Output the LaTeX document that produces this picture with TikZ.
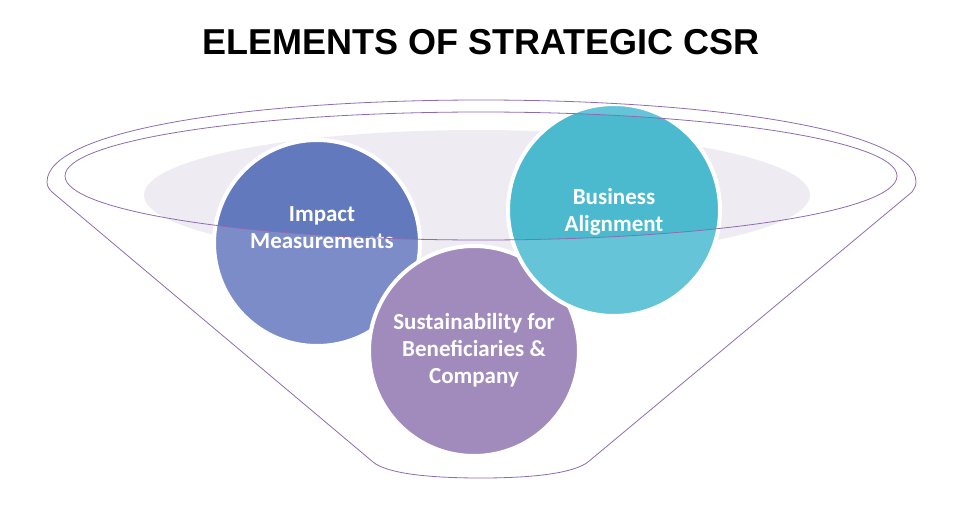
\documentclass[tikz,border=0pt]{standalone}
\usepackage{fontspec}
\setmainfont{Carlito}
\newfontfamily\titlefont{Liberation Sans}
\begin{document}
\begin{tikzpicture}[x=1pt,y=-1pt,
  lbl/.style={text=white, font=\bfseries\fontsize{23}{27}\selectfont, align=center},
  ring/.style={draw=white, line width=4pt}]
\definecolor{impD}{HTML}{6279BD}\definecolor{impL}{HTML}{7B8CC8}
\definecolor{susD}{HTML}{9279AE}\definecolor{susL}{HTML}{A08BBC}
\definecolor{busD}{HTML}{4BBACF}\definecolor{busL}{HTML}{65C4D7}
\definecolor{fcol}{HTML}{8E6BB0}
\useasboundingbox (0,0) rectangle (963,508);
\node[font=\titlefont\bfseries\fontsize{36}{40}\selectfont] (title) at (481,42) {ELEMENTS OF STRATEGIC CSR};
\fill[fill={rgb,255:red,238;green,236;blue,242}] (477,195) ellipse [x radius=333, y radius=65];
% circles
\foreach \cx/\cy/\r/\cl/\cd in {317/243/103/impL/impD, 474/351/105/susL/susD, 614/210/106/busL/busD}{
  \fill[\cl] (\cx,\cy) circle[radius=\r];
  \begin{scope}
    \clip (481,176) ellipse [x radius=416, y radius=64];
    \fill[\cd] (\cx,\cy) circle[radius=\r];
  \end{scope}
  \draw[ring] (\cx,\cy) circle[radius=\r];
}
\node[lbl] (imp) at (322,228) {Impact\\Measurements};
\node[lbl] (sus) at (474,350) {Sustainability for\\Beneficiaries \&\\Company};
\node[lbl] (bus) at (614,212) {Business\\Alignment};
% funnel
\draw[draw=fcol, line width=0.8pt] (481,176) ellipse [x radius=416, y radius=64];
\draw[draw=fcol, line width=0.8pt] (47,182) .. controls (47,130) and (250,100) .. (481,100)
  .. controls (712,100) and (916,130) .. (916,182)
  .. controls (916,186) and (914,189) .. (912,192) -- (588,462)
  .. controls (575,472) and (540,478) .. (481,478)
  .. controls (420,478) and (385,472) .. (373,462) -- (52,192)
  .. controls (49,189) and (47,186) .. (47,182) -- cycle;
\end{tikzpicture}
\end{document}
